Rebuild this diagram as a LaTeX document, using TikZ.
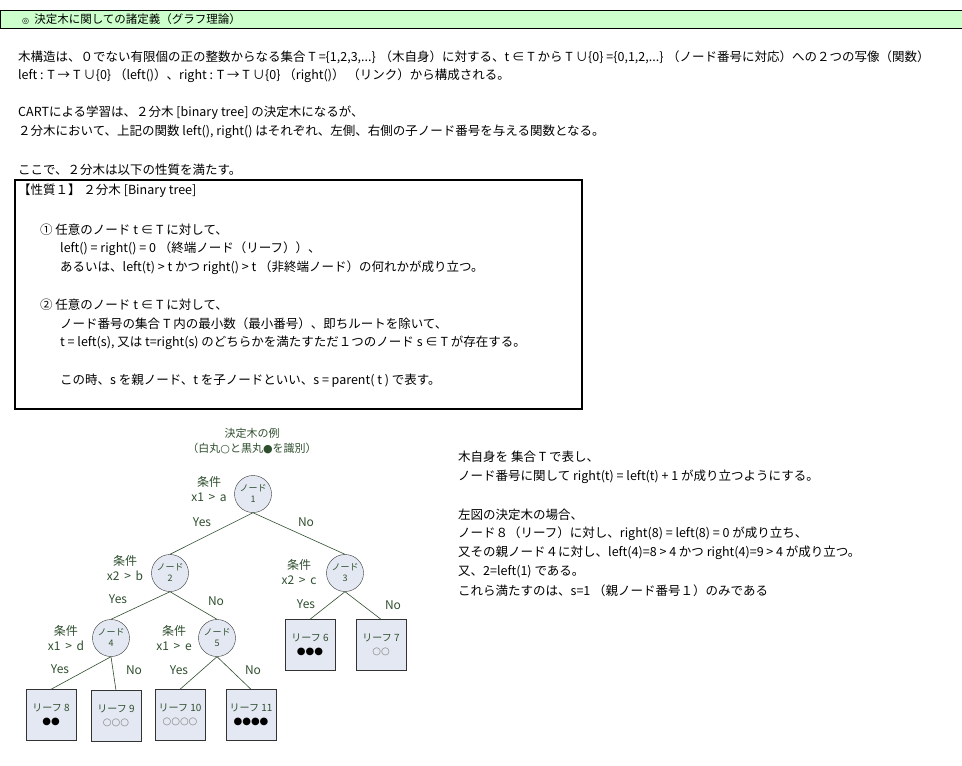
\documentclass[tikz,border=0pt]{standalone}
\usepackage{fontspec}
\setmainfont{Noto Sans CJK JP}
\newfontfamily\djv{DejaVu Sans}
\definecolor{hdr}{HTML}{CCFFCC}
\definecolor{tg}{HTML}{2F4F2F}
\definecolor{nf}{HTML}{E4E8F2}
\begin{document}
\begin{tikzpicture}[x=1pt,y=-1pt,
  txt/.style={anchor=west,inner sep=0pt,font=\fontsize{12.5}{14}\selectfont},
  tn/.style={circle,draw=black!80,fill=nf,minimum size=37pt,inner sep=0pt,align=center,font=\fontsize{9}{11}\selectfont,text=tg},
  lf/.style={rectangle,draw=black!80,fill=nf,minimum width=50pt,minimum height=51pt,inner sep=0pt,align=center,font=\fontsize{10}{13}\selectfont,text=tg},
  cond/.style={align=center,inner sep=0pt,font=\fontsize{12}{15}\selectfont,text=tg},
  yn/.style={inner sep=0pt,font=\fontsize{12}{13}\selectfont,text=tg},
  edge/.style={draw=tg,line width=0.6pt}]
\useasboundingbox (0,0) rectangle (962,766);
\fill[white] (0,0) rectangle (962,766);
\filldraw[fill=hdr,draw=black] (0,10) rectangle (962,28);
\node[txt,font=\fontsize{11.5}{13}\selectfont] (hd) at (22,19) {{\djv\fontsize{8}{9}\selectfont ◎}\ \ 決定木に関しての諸定義（グラフ理論）};
\node[txt] (p1) at (18,57) {木構造は、０でない有限個の正の整数からなる集合 T =\{1,2,3,...\} （木自身）に対する、t ∈ T から T ∪\{0\} =\{0,1,2,...\} （ノード番号に対応）への２つの写像（関数）};
\node[txt] (p2) at (18,76) {left : T → T ∪\{0\} （left()）、right : T → T ∪\{0\} （right()） （リンク）から構成される。};
\node[txt] (p3) at (18,113) {CARTによる学習は、２分木 [binary tree] の決定木になるが、};
\node[txt] (p4) at (18,132) {２分木において、上記の関数 left(), right() はそれぞれ、左側、右側の子ノード番号を与える関数となる。};
\node[txt] (p5) at (18,170) {ここで、２分木は以下の性質を満たす。};
\draw[line width=1.4pt] (15,180) rectangle (582,409);
\node[txt] (b1) at (18,191) {【性質１】 ２分木 [Binary tree]};
\node[txt] (b2) at (40,230) {① 任意のノード t ∈ T に対して、};
\node[txt] (b3) at (60,249) {left() = right() = 0 （終端ノード（リーフ））、};
\node[txt] (b4) at (60,268) {あるいは、left(t) > t かつ right() > t （非終端ノード）の何れかが成り立つ。};
\node[txt] (b5) at (40,305) {② 任意のノード t ∈ T に対して、};
\node[txt] (b6) at (60,324) {ノード番号の集合 T 内の最小数（最小番号）、即ちルートを除いて、};
\node[txt] (b7) at (60,343) {t = left(s), 又は t=right(s) のどちらかを満たすただ１つのノード s ∈ T が存在する。};
\node[txt] (b8) at (60,381) {この時、s を親ノード、t を子ノードといい、s = parent( t ) で表す。};
% right text
\node[txt] (r1) at (458,457) {木自身を 集合 T で表し、};
\node[txt] (r2) at (458,477) {ノード番号に関して right(t) = left(t) + 1 が成り立つようにする。};
\node[txt] (r3) at (458,515) {左図の決定木の場合、};
\node[txt] (r4) at (458,534) {ノード８（リーフ）に対し、right(8) = left(8) = 0 が成り立ち、};
\node[txt] (r5) at (458,553) {又その親ノード４に対し、left(4)=8 > 4 かつ right(4)=9 > 4 が成り立つ。};
\node[txt] (r6) at (458,572) {又、2=left(1) である。};
\node[txt] (r7) at (458,591) {これら満たすのは、s=1 （親ノード番号１）のみである};
% tree
\node[cond,font=\fontsize{11}{15}\selectfont] (ttl) at (252,441) {決定木の例\\（白丸{\djv ○}と黒丸{\djv ●}を識別）};
\node[tn] (n1) at (253,494) {ノード\\1};
\node[tn] (n2) at (170,573) {ノード\\2};
\node[tn] (n3) at (345,573) {ノード\\3};
\node[tn] (n4) at (111,638) {ノード\\4};
\node[tn] (n5) at (217,638) {ノード\\5};
\node[lf] (l6) at (310,645) {リーフ 6\\{\djv\color{black}●●●}};
\node[lf] (l7) at (381,645) {リーフ 7\\{\djv\color{gray}○○}};
\node[lf] (l8) at (51,715) {リーフ 8\\{\djv\color{black}●●}};
\node[lf] (l9) at (116,716) {リーフ 9\\{\djv\color{gray}○○○}};
\node[lf] (l10) at (180,715) {リーフ 10\\{\djv\color{gray}○○○○}};
\node[lf] (l11) at (251,715) {リーフ 11\\{\djv\color{black}●●●●}};
\draw[edge] (n1.south) -- (n2.north);
\draw[edge] (n1.south) -- (n3.north);
\draw[edge] (n2.south) -- (n4.north);
\draw[edge] (n2.south) -- (n5.north);
\draw[edge] (n3.south) -- (l6.north);
\draw[edge] (n3.south) -- (l7.north);
\draw[edge] (n4.south) -- (l8.north);
\draw[edge] (n4.south) -- (l9.north);
\draw[edge] (n5.south) -- (l10.north);
\draw[edge] (n5.south) -- (l11.north);
\node[cond] (c1) at (209,489) {条件\\x1 \,>\, a};
\node[cond] (c2) at (125,568) {条件\\x2 \,>\, b};
\node[cond] (c3) at (299,572) {条件\\x2 \,>\, c};
\node[cond] (c4) at (66,638) {条件\\x1 \,>\, d};
\node[cond] (c5) at (174,638) {条件\\x1 \,>\, e};
\node[yn] (y1) at (202,522) {Yes};
\node[yn] (o1) at (306,522) {No};
\node[yn] (y2) at (118,599) {Yes};
\node[yn] (o2) at (216,601) {No};
\node[yn] (y3) at (306,604) {Yes};
\node[yn] (o3) at (393,605) {No};
\node[yn] (y4) at (60,669) {Yes};
\node[yn] (o4) at (134,670) {No};
\node[yn] (y5) at (179,670) {Yes};
\node[yn] (o5) at (253,670) {No};
\end{tikzpicture}
\end{document}
